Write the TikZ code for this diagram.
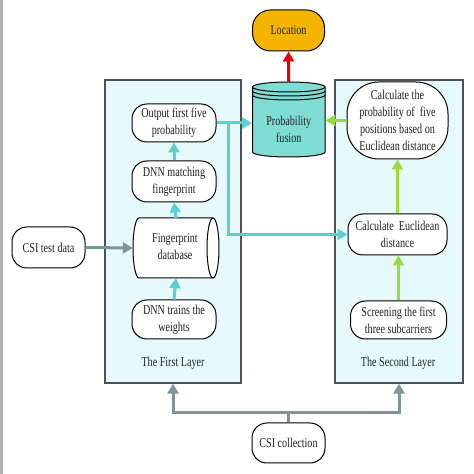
\documentclass[tikz,border=0pt]{standalone}
\usepackage{fontspec}
\setmainfont{Liberation Serif}[FakeStretch=0.75]
\usetikzlibrary{arrows.meta}
\definecolor{cyanarr}{HTML}{5CCFD0}
\definecolor{greenarr}{HTML}{9ADB3C}
\definecolor{grayarr}{HTML}{7F9696}
\definecolor{panelfill}{HTML}{E6FAFB}
\definecolor{panelline}{HTML}{4A5258}
\definecolor{cylfill}{HTML}{80DDD5}
\definecolor{locfill}{HTML}{F4B400}
\definecolor{txt}{HTML}{222222}
\tikzset{
  box/.style={draw=black, line width=1pt, fill=white, rounded corners=15pt,
    inner sep=0pt, align=center, text=txt,
    font=\fontsize{13.5}{17}\selectfont},
  plain/.style={inner sep=0pt, align=center, text=txt,
    font=\fontsize{13.5}{17}\selectfont},
  panel/.style={draw=panelline, line width=1.2pt, fill=panelfill, inner sep=0pt},
  tipA/.style={-{Triangle[length=10pt,width=11pt]}},
  cyanline/.style={tipA, draw=cyanarr, line width=3pt},
  greenline/.style={tipA, draw=greenarr, line width=3pt},
  grayline/.style={tipA, draw=grayarr, line width=3pt},
  redline/.style={tipA, draw=red!90!black, line width=3pt},
}
\begin{document}
\begin{tikzpicture}[x=1pt,y=1pt]
\useasboundingbox (0,0) rectangle (474,474);
\fill[white] (0,0) rectangle (474,474);
\fill[gray!60] (0,0) rectangle (3,474);

% panels
\node[panel, minimum width=136pt, minimum height=303pt] (p1) at (173,242.5) {};
\node[panel, minimum width=128pt, minimum height=303pt] (p2) at (399,242.5) {};
\node[plain] (l1) at (173,111) {The First Layer};
\node[plain] (l2) at (398,111) {The Second Layer};

% location
\node[box, fill=locfill, rounded corners=18pt, minimum width=72pt, minimum height=41pt] (loc) at (288.5,443.5) {Location};

% probability fusion cylinder
\node[plain, minimum width=73pt, minimum height=75pt] (fus) at (288.75,354.5) {};
\fill[cylfill] (252.5,387) -- (252.5,322) arc[start angle=180,end angle=360,x radius=36.25,y radius=5] -- (325,387) arc[start angle=0,end angle=180,x radius=36.25,y radius=5] -- cycle;
\draw[line width=1pt] (252.5,387) -- (252.5,322) arc[start angle=180,end angle=360,x radius=36.25,y radius=5] -- (325,387);
\draw[line width=1pt] (288.75,387) ellipse[x radius=36.25,y radius=5];
\draw[line width=1pt] (252.5,383) arc[start angle=180,end angle=360,x radius=36.25,y radius=5];
\draw[line width=1pt] (252.5,379) arc[start angle=180,end angle=360,x radius=36.25,y radius=5];
\node[plain] (fust) at (288.75,345) {Probability\\fusion};

% first layer nodes
\node[box, minimum width=84pt, minimum height=38pt] (out) at (174,351) {Output first five\\probability};
\node[box, minimum width=84pt, minimum height=41pt] (match) at (174,292.5) {DNN matching\\fingerprint};
\node[plain, minimum width=86pt, minimum height=60pt] (fdb) at (176,226) {};
\draw[line width=1pt, fill=white] (139,256) -- (213,256) arc[start angle=90,end angle=-90,x radius=6,y radius=30] -- (139,196) arc[start angle=270,end angle=90,x radius=6,y radius=30] -- cycle;
\draw[line width=1pt] (213,256) arc[start angle=90,end angle=270,x radius=6,y radius=30];
\node[plain] (fdbt) at (175,227) {Fingerprint\\database};
\node[box, minimum width=84pt, minimum height=39pt] (train) at (174,154.5) {DNN trains the\\weights};

% second layer nodes
\node[box, rounded corners=32pt, minimum width=101pt, minimum height=77pt] (calcp) at (397.5,353.5) {Calculate the\\probability of\ \ five\\positions based on\\Euclidean distance};
\node[box, minimum width=99pt, minimum height=41pt] (calce) at (397.5,239.5) {Calculate\ \ Euclidean\\distance};
\node[box, minimum width=96pt, minimum height=38pt] (screen) at (398.5,154) {Screening the first\\three subcarriers};

% outside nodes
\node[box, minimum width=73pt, minimum height=41pt] (csitest) at (48.5,226.5) {CSI test data};
\node[box, minimum width=73pt, minimum height=40pt] (csicol) at (288.5,31) {CSI collection};

% arrows
\draw[redline] (fus.north) -- (loc.south);
\draw[cyanline] (train.north) -- (fdb.south);
\draw[cyanline] (fdb.north) -- (match.south);
\draw[cyanline] (match.north) -- (out.south);
\draw[cyanline] (out.east) -- (out.east -| fus.west);
\coordinate (j) at (228,351);
\draw[cyanline] (j) |- (calce.west);
\draw[greenline] (screen.north) -- (calce.south -| screen.north);
\draw[greenline] (calce.north) -- (calcp.south);
\draw[greenline] (calcp.west) -- (calcp.west -| fus.east);
\draw[grayline] (csitest.east) -- (fdb.west);
\coordinate (hub) at (288.5,61);
\draw[grayarr, line width=3pt] (csicol.north) -- (hub);
\draw[grayline] (hub) -| (p1.south);
\draw[grayline] (hub) -| (p2.south);
\end{tikzpicture}
\end{document}
